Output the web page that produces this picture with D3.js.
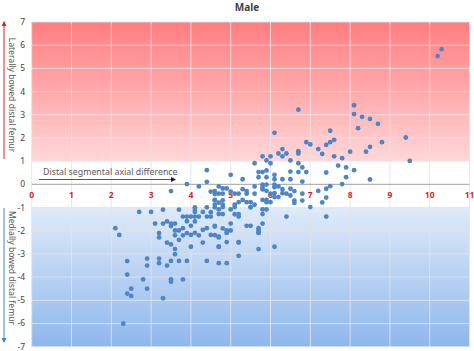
<!DOCTYPE html>
<html>
<head>
<meta charset="utf-8">
<script src="https://cdn.jsdelivr.net/npm/d3@7"></script>
<style>
  html, body { margin: 0; padding: 0; background: #fff; }
  svg { display: block; font-family: "Noto Sans", "Open Sans", sans-serif; }
</style>
</head>
<body>
<div id="chart"></div>
<script>
// valeurs (différence axiale segmentaire, courbure)
const title = "Male";
const xTicks = [0, 1, 2, 3, 4, 5, 6, 7, 8, 9, 10, 11];
const yTicks = [-7, -6, -5, -4, -3, -2, -1, 0, 1, 2, 3, 4, 5, 6, 7];
const upperLabel = "Laterally bowed distal femur";
const lowerLabel = "Medially bowed distal femur";
const arrowLabel = "Distal segmental axial difference";

const points = [
  // zone rouge
  [10.3, 5.83], [10.2, 5.53], [6.7, 3.22], [8.1, 3.41], [8.1, 3.03], [8.3, 2.91], [8.5, 2.82],
  [8.7, 2.61], [8.2, 2.42], [7.5, 2.31], [9.4, 2.02], [6.1, 2.22], [7.6, 1.92], [7.5, 1.82],
  [7.4, 1.70], [8.8, 1.82], [8.5, 1.62], [8.4, 1.41], [8.0, 1.41], [7.2, 1.52], [7.3, 1.31],
  [7.6, 1.21], [7.8, 1.13], [9.5, 1.01], [6.9, 1.82], [7.0, 1.72], [6.7, 1.43], [6.7, 1.33],
  [6.3, 1.52], [6.4, 1.33], [6.2, 1.33], [6.3, 1.21], [5.8, 1.21], [6.0, 1.21], [5.9, 1.03],
  [6.5, 1.03],
  // bande blanche
  [6.0, 0.91], [5.6, 0.91], [6.8, 0.73], [6.7, 0.91], [6.9, 0.53], [6.5, 0.55], [6.7, 0.53],
  [5.7, 0.53], [5.8, 0.53], [5.9, 0.60], [5.7, 0.31], [5.9, 0.31], [6.1, 0.41], [6.1, 0.22],
  [6.3, 0.22], [6.5, 0.22], [6.8, 0.12], [5.0, 0.41], [5.3, 0.22], [4.4, 0.61], [4.4, 0.11],
  [3.9, 0.01], [7.7, 0.81], [7.9, 0.73], [8.1, 0.61], [7.4, 0.51], [7.9, 0.31], [8.5, 0.21],
  [7.8, 0.01],
  // autour de l'axe
  [5.6, -0.09], [5.8, -0.01], [5.8, -0.12], [5.9, -0.01], [6.1, -0.01], [6.1, -0.12], [4.7, -0.09],
  [4.8, -0.18], [4.9, -0.18], [5.3, -0.21], [6.3, -0.21], [4.2, -0.09], [3.5, -0.29], [4.6, -0.29],
  [4.7, -0.40], [4.8, -0.40], [5.1, -0.40], [5.2, -0.40], [5.4, -0.29], [5.4, -0.40], [5.6, -0.40],
  [5.8, -0.22], [6.0, -0.40], [6.2, -0.09], [6.4, -0.40], [6.5, -0.19], [6.6, -0.29], [6.8, -0.40],
  [7.5, -0.08], [7.4, -0.19], [7.2, -0.28], [7.4, -0.57], [7.3, -0.78], [6.6, -0.70], [6.6, -0.80],
  [6.8, -0.70], [5.0, -0.31], [5.9, -0.28], [6.1, -0.38], [6.1, -0.55], [6.2, -0.55], [6.3, -0.38],
  [6.5, -0.48], [5.9, -0.67], [5.9, -0.77], [6.0, -0.77], [5.8, -0.67], [4.5, -0.31], [4.6, -0.42],
  [4.6, -0.67], [7.0, -0.98], [7.4, -1.39], [6.4, -1.39],
  // zone bleue
  [4.5, -1.20], [4.5, -1.39], [4.7, -1.28], [4.8, -1.28], [4.8, -0.88], [4.6, -0.88], [4.8, -0.98],
  [4.7, -1.08], [5.0, -1.08], [5.1, -0.98], [5.1, -0.88], [5.2, -0.77], [5.3, -0.67], [5.4, -0.77],
  [5.5, -0.77], [5.6, -0.88], [5.5, -0.98], [5.8, -1.08], [5.9, -1.08], [5.8, -1.28], [5.2, -1.28],
  [5.2, -1.39], [5.1, -1.29], [5.5, -0.99],
  [6.1, -2.69], [5.7, -2.79], [5.2, -3.08], [4.7, -3.40], [4.9, -3.40], [4.7, -2.69], [4.9, -2.49],
  [5.2, -2.49], [4.6, -1.79], [4.6, -2.19], [4.7, -2.29], [4.9, -1.99], [4.9, -2.09], [5.0, -1.99],
  [5.0, -1.69], [5.4, -1.79], [5.5, -1.79], [5.7, -1.89], [5.7, -1.99], [5.7, -2.09], [5.8, -1.69],
  [2.7, -1.19], [3.0, -1.19], [3.3, -1.09], [3.7, -1.09], [4.1, -0.99], [4.1, -1.09], [4.1, -1.19],
  [4.1, -1.39], [4.1, -1.60], [4.0, -1.39], [3.9, -1.39], [3.8, -1.39], [3.9, -1.59], [4.2, -1.39],
  [4.3, -1.19], [4.4, -0.99], [4.4, -1.39], [4.6, -0.99], [4.6, -0.69], [4.7, -0.79], [4.8, -0.69],
  [4.4, -1.89], [4.3, -1.96], [4.6, -1.82], [4.7, -2.25], [4.8, -1.90], [4.2, -2.20], [3.6, -2.20],
  [3.8, -2.20], [3.7, -1.99], [3.6, -1.99], [3.5, -1.80], [3.2, -2.10], [3.4, -1.60], [3.5, -1.69],
  [3.6, -1.69], [3.3, -1.69], [3.1, -1.69], [4.0, -1.79], [3.8, -1.89], [3.9, -2.10], [2.1, -1.89],
  [2.2, -2.18], [3.2, -2.29], [4.0, -2.18], [4.1, -2.09], [4.5, -2.18], [4.9, -2.09], [5.7, -2.09],
  [3.4, -2.51], [3.5, -2.59], [3.6, -2.79], [3.6, -3.01], [3.7, -2.39], [4.0, -2.69], [4.3, -2.51],
  [4.4, -3.30], [4.7, -2.69], [5.2, -2.51], [2.4, -3.31], [2.4, -3.89], [2.4, -4.71], [2.5, -4.50],
  [2.5, -4.81], [2.3, -6.01], [2.9, -3.20], [2.9, -3.50], [2.8, -4.10], [2.9, -4.50], [3.2, -3.20],
  [3.2, -3.40], [3.4, -3.50], [3.5, -3.30], [3.7, -3.30], [3.9, -3.30], [3.3, -4.91], [3.5, -4.10],
  [3.5, -4.20], [3.8, -4.10]
];

const width = 474;
const height = 351;
const margin = { top: 22, right: 4.5, bottom: 4.3, left: 31.7 };

const x = d3.scaleLinear().domain([0, 11]).range([margin.left, width - margin.right]);
const y = d3.scaleLinear().domain([-7, 7]).range([height - margin.bottom, margin.top]);

const svg = d3.select("#chart")
  .append("svg")
  .attr("width", width)
  .attr("height", height);

const defs = svg.append("defs");

const redGrad = defs.append("linearGradient")
  .attr("id", "redGrad").attr("x1", 0).attr("y1", 0).attr("x2", 0).attr("y2", 1);
redGrad.append("stop").attr("offset", "0%").attr("stop-color", "#ff7d80");
redGrad.append("stop").attr("offset", "100%").attr("stop-color", "#ffd7d9");

const blueGrad = defs.append("linearGradient")
  .attr("id", "blueGrad").attr("x1", 0).attr("y1", 0).attr("x2", 0).attr("y2", 1);
blueGrad.append("stop").attr("offset", "0%").attr("stop-color", "#dfeaf9");
blueGrad.append("stop").attr("offset", "100%").attr("stop-color", "#8fb7ec");

const arrowHead = (id, color) => defs.append("marker")
  .attr("id", id)
  .attr("viewBox", "0 0 10 10")
  .attr("refX", 8).attr("refY", 5)
  .attr("markerWidth", 5).attr("markerHeight", 5)
  .attr("orient", "auto")
  .append("path")
  .attr("d", "M0,0L10,5L0,10Z")
  .attr("fill", color);
arrowHead("arrowBlack", "#1a1a1a");
arrowHead("arrowRed", "#d9252c");
arrowHead("arrowBlue", "#3d86c6");

// zones de fond
svg.append("rect")
  .attr("x", x(0)).attr("y", y(7))
  .attr("width", x(11) - x(0)).attr("height", y(1) - y(7))
  .attr("fill", "url(#redGrad)");
svg.append("rect")
  .attr("x", x(0)).attr("y", y(1))
  .attr("width", x(11) - x(0)).attr("height", y(-1) - y(1))
  .attr("fill", "#ffffff");
svg.append("rect")
  .attr("x", x(0)).attr("y", y(-1))
  .attr("width", x(11) - x(0)).attr("height", y(-7) - y(-1))
  .attr("fill", "url(#blueGrad)");

// quadrillage
svg.append("g")
  .selectAll("line")
  .data(xTicks)
  .join("line")
  .attr("x1", d => x(d)).attr("x2", d => x(d))
  .attr("y1", y(7)).attr("y2", y(-7))
  .attr("stroke", "#e4e4e4")
  .attr("stroke-opacity", 0.85)
  .attr("stroke-width", 1);

svg.append("g")
  .selectAll("line")
  .data(yTicks.filter(d => d !== 0))
  .join("line")
  .attr("x1", x(0)).attr("x2", x(11))
  .attr("y1", d => y(d)).attr("y2", d => y(d))
  .attr("stroke", "#e4e4e4")
  .attr("stroke-opacity", 0.85)
  .attr("stroke-width", 1);

// axe horizontal à y = 0
svg.append("line")
  .attr("x1", x(0)).attr("x2", x(11))
  .attr("y1", y(0)).attr("y2", y(0))
  .attr("stroke", "#b3b3b3")
  .attr("stroke-width", 1.2);

// étiquettes de l'axe x (rouge)
svg.append("g")
  .selectAll("text")
  .data(xTicks)
  .join("text")
  .attr("x", d => x(d))
  .attr("y", y(0) + 14)
  .attr("text-anchor", "middle")
  .attr("font-size", 8.5)
  .attr("font-weight", "bold")
  .attr("fill", "#d9252c")
  .text(d => d);

// étiquettes de l'axe y
svg.append("g")
  .selectAll("text")
  .data(yTicks)
  .join("text")
  .attr("x", 25)
  .attr("y", d => y(d))
  .attr("dy", "0.35em")
  .attr("text-anchor", "end")
  .attr("font-size", 8.5)
  .attr("fill", "#404040")
  .text(d => d);

// titre
svg.append("text")
  .attr("x", 247)
  .attr("y", 11)
  .attr("text-anchor", "middle")
  .attr("font-size", 10)
  .attr("font-weight", "bold")
  .attr("fill", "#404040")
  .text(title);

// flèches et libellés de gauche
svg.append("line")
  .attr("x1", 4).attr("x2", 4)
  .attr("y1", 159).attr("y2", 22)
  .attr("stroke", "#d9252c").attr("stroke-width", 1)
  .attr("marker-end", "url(#arrowRed)");
svg.append("line")
  .attr("x1", 4).attr("x2", 4)
  .attr("y1", 208).attr("y2", 342)
  .attr("stroke", "#3d86c6").attr("stroke-width", 1)
  .attr("marker-end", "url(#arrowBlue)");

svg.append("text")
  .attr("transform", "translate(12,95) rotate(90)")
  .attr("text-anchor", "middle")
  .attr("dy", "0.35em")
  .attr("font-size", 8.6)
  .attr("fill", "#595959")
  .text(upperLabel);
svg.append("text")
  .attr("transform", "translate(12,268) rotate(90)")
  .attr("text-anchor", "middle")
  .attr("dy", "0.35em")
  .attr("font-size", 8.6)
  .attr("fill", "#595959")
  .text(lowerLabel);

// annotation
svg.append("text")
  .attr("x", 43)
  .attr("y", 175)
  .attr("font-size", 8.8)
  .attr("fill", "#595959")
  .text(arrowLabel);
svg.append("line")
  .attr("x1", 39).attr("x2", 175)
  .attr("y1", 179.5).attr("y2", 179.5)
  .attr("stroke", "#595959").attr("stroke-width", 1)
  .attr("marker-end", "url(#arrowBlack)");

// points
svg.append("g")
  .selectAll("circle")
  .data(points)
  .join("circle")
  .attr("cx", d => x(d[0]))
  .attr("cy", d => y(d[1]))
  .attr("r", 2.4)
  .attr("fill", "#4d86c6");
</script>
</body>
</html>
